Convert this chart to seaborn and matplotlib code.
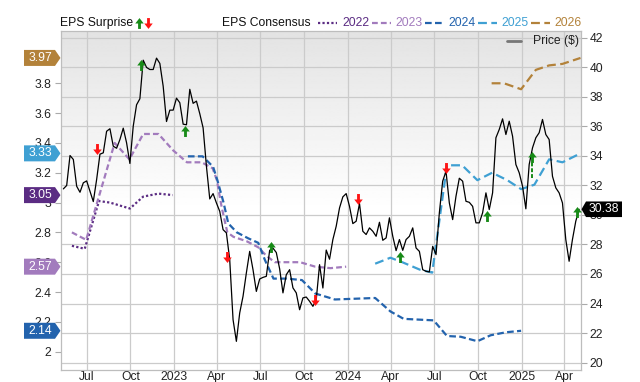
import numpy as np
import pandas as pd
import matplotlib
matplotlib.use("Agg")
import matplotlib.pyplot as plt
import matplotlib.transforms as mtransforms
from matplotlib.path import Path
from matplotlib.patches import Polygon
from matplotlib.lines import Line2D
from matplotlib.ticker import FuncFormatter
import seaborn as sns

# ---------------- data ----------------
price_start = "2022-05-13"   # weekly closes
price_values = [
    31.76, 31.99, 34.02, 33.75, 31.94, 31.53, 32.17, 32.30, 31.60, 30.90,
    32.39, 34.11, 34.20, 35.66, 35.83, 34.65, 34.51, 35.10, 35.87, 34.88,
    33.48, 36.00, 37.45, 37.86, 40.47, 39.98, 39.84, 39.84, 40.61, 40.25,
    38.71, 36.32, 37.09, 37.09, 37.90, 37.59, 36.14, 36.10, 38.50, 37.55,
    37.70, 36.85, 35.89, 33.29, 31.08, 31.44, 30.81, 30.24, 29.00, 28.78,
    26.97, 22.91, 21.44, 23.36, 24.49, 26.07, 27.53, 26.29, 24.82, 25.66,
    25.77, 25.84, 27.60, 27.75, 27.45, 26.35, 24.72, 25.95, 26.29, 25.06,
    24.72, 23.58, 24.38, 24.44, 24.15, 23.81, 24.26, 26.63, 25.05, 27.62,
    27.00, 28.33, 29.23, 30.47, 31.22, 31.44, 30.58, 29.41, 29.57, 30.77,
    28.89, 28.67, 29.12, 28.89, 28.55, 29.50, 28.28, 28.44, 29.80, 28.55,
    27.58, 28.33, 27.60, 28.33, 28.55, 29.12, 27.76, 27.53, 26.29, 26.18,
    26.14, 27.87, 27.31, 30.14, 32.28, 32.95, 30.81, 29.68, 31.26, 32.48,
    32.28, 30.92, 30.85, 30.58, 29.46, 29.46, 30.14, 31.49, 30.36, 31.49,
    35.22, 35.78, 36.50, 35.44, 36.34, 35.33, 33.41, 32.85, 31.94, 30.41,
    33.41, 34.54, 35.22, 35.56, 36.46, 35.44, 35.10, 32.61, 31.83, 31.49,
    30.81, 28.33, 26.86, 28.33, 29.57, 30.38,
]

years = ["2022", "2023", "2024", "2025", "2026"]
eps2022_dates = ["2022-05-31", "2022-06-27", "2022-07-27", "2022-08-19", "2022-09-30",
                 "2022-10-28", "2022-11-29", "2022-12-29"]
eps2022_vals = [2.71, 2.69, 3.01, 3.00, 2.96, 3.04, 3.06, 3.05]

eps2023_dates = ["2022-05-31", "2022-06-30", "2022-08-29", "2022-09-29", "2022-10-28",
                 "2022-11-29", "2022-12-30", "2023-01-28", "2023-02-28", "2023-03-23",
                 "2023-04-01", "2023-04-11", "2023-04-23", "2023-05-06", "2023-06-03",
                 "2023-06-27", "2023-07-15", "2023-08-01", "2023-09-23", "2023-10-25",
                 "2023-11-26", "2023-12-29"]
eps2023_vals = [2.80, 2.75, 3.40, 3.29, 3.46, 3.46, 3.35, 3.27, 3.27, 3.23,
                3.15, 2.97, 2.80, 2.77, 2.74, 2.70, 2.64, 2.60, 2.60, 2.57,
                2.56, 2.57]

eps2024_dates = ["2023-01-30", "2023-03-02", "2023-03-24", "2023-04-02", "2023-04-15",
                 "2023-04-25", "2023-05-13", "2023-06-06", "2023-06-27", "2023-07-11",
                 "2023-07-29", "2023-08-26", "2023-09-27", "2023-10-25", "2023-11-25",
                 "2023-12-05", "2024-02-28", "2024-03-31", "2024-04-28", "2024-06-30",
                 "2024-07-28", "2024-08-26", "2024-09-30", "2024-10-28", "2024-11-29",
                 "2024-12-31"]
eps2024_vals = [3.31, 3.31, 3.24, 3.15, 3.00, 2.86, 2.80, 2.76, 2.73, 2.615,
                2.49, 2.49, 2.48, 2.39, 2.36, 2.35, 2.36, 2.27, 2.22, 2.21,
                2.105, 2.10, 2.07, 2.11, 2.13, 2.14]

eps2025_dates = ["2024-02-28", "2024-03-31", "2024-04-25", "2024-06-01", "2024-06-27",
                 "2024-07-28", "2024-08-29", "2024-09-30", "2024-10-31", "2024-12-02",
                 "2024-12-31", "2025-01-28", "2025-02-28", "2025-03-28", "2025-05-05"]
eps2025_vals = [2.59, 2.63, 2.60, 2.55, 2.53, 3.25, 3.25, 3.15, 3.20, 3.15,
                3.09, 3.12, 3.29, 3.27, 3.33]

eps2026_dates = ["2024-10-30", "2024-11-25", "2024-12-31", "2025-01-31", "2025-02-28",
                 "2025-03-28", "2025-05-05"]
eps2026_vals = [3.80, 3.80, 3.76, 3.89, 3.92, 3.93, 3.97]

beat_dates = ["2022-10-23", "2023-01-23", "2023-07-24", "2024-04-21", "2024-10-21",
              "2025-01-22", "2025-04-27"]
beat_vals = [40.16, 35.71, 27.83, 27.15, 29.95, 33.95, 30.20]
big_beat_date = "2025-01-22"
big_beat_low, big_beat_high = 32.5, 33.6
miss_dates = ["2022-07-23", "2023-04-22", "2023-10-24", "2024-01-22", "2024-07-25"]
miss_vals = [34.47, 27.15, 24.26, 31.08, 33.16]

x_tick_dates = ["2022-07-01", "2022-10-01", "2023-01-01", "2023-04-01", "2023-07-01",
                "2023-10-01", "2024-01-01", "2024-04-01", "2024-07-01", "2024-10-01",
                "2025-01-01", "2025-04-01"]
x_tick_labels = ["Jul", "Oct", "2023", "Apr", "Jul", "Oct", "2024", "Apr", "Jul", "Oct",
                 "2025", "Apr"]
price_ticks = [20, 22, 24, 26, 28, 30, 32, 34, 36, 38, 40, 42]
eps_ticks = [2.0, 2.2, 2.4, 2.6, 2.8, 3.0, 3.2, 3.4, 3.6, 3.8]

# ---------------- style ----------------
year_colors = ["#5b2c83", "#a27bbd", "#2363ad", "#3fa0d3", "#b3823a"]
year_styles = [(0, (1, 1)), (0, (2.6, 1.4)), (0, (3, 1.5)), (0, (4, 2)), (0, (4, 2))]
GREEN, RED = "#178a17", "#ff1414"
FS = 8.7

sns.set_theme(style="white")
plt.rcParams["font.family"] = ["Liberation Sans", "DejaVu Sans"]

W, H = 640, 382
L, R, T, B = 60.5, 581, 30.5, 370
pos = [L / W, 1 - B / H, (R - L) / W, (B - T) / H]
xlim = tuple(pd.to_datetime(["2022-05-07", "2025-05-06"]))
price_lim = (19.5, 42.48)
eps_lim = (1.877, 4.154)

fig = plt.figure(figsize=(W / 100, H / 100), dpi=100)


def fx(px):
    return px / W


def fy(py):
    return 1 - py / H


up_path = Path([(-0.26, -1), (0.26, -1), (0.26, 0.0), (0.78, 0.0), (0, 1),
                (-0.78, 0.0), (-0.26, 0.0), (-0.26, -1)],
               [Path.MOVETO] + [Path.LINETO] * 6 + [Path.CLOSEPOLY])
down_path = Path([(x, -y) for x, y in up_path.vertices], up_path.codes)

# background with gradient and grid
bg = fig.add_axes(pos)
bg.set_xlim(xlim)
t = np.linspace(0, 1, 256)
shade = 1 - 0.11 * np.clip((t - 0.47) / 0.53, 0, 1)
bg.imshow(shade.reshape(-1, 1), extent=(0, 1, 0, 1), transform=bg.transAxes,
          origin="lower", cmap="gray", vmin=0, vmax=1, aspect="auto",
          zorder=-1, interpolation="bilinear")
bg.set_xlim(xlim)
bg.set_ylim(price_lim)
bg.set_xticks(pd.to_datetime(x_tick_dates))
bg.set_yticks(price_ticks)
bg.grid(True, color="#cbcbcb", lw=0.9)
bg.tick_params(length=0, labelbottom=False, labelleft=False)
for s in bg.spines.values():
    s.set_visible(False)

# EPS consensus axis (left)
axe = fig.add_axes(pos, sharex=bg)
axe.patch.set_visible(False)
series = [(eps2022_dates, eps2022_vals), (eps2023_dates, eps2023_vals),
          (eps2024_dates, eps2024_vals), (eps2025_dates, eps2025_vals),
          (eps2026_dates, eps2026_vals)]
for (d, v), c, ls in zip(series, year_colors, year_styles):
    df = pd.DataFrame({"date": pd.to_datetime(d), "eps": v})
    sns.lineplot(data=df, x="date", y="eps", ax=axe, color=c, lw=1.6,
                 linestyle=ls, estimator=None, sort=False)
axe.set_ylim(eps_lim)
axe.set_yticks(eps_ticks)
axe.yaxis.set_major_formatter(FuncFormatter(lambda v, p: f"{v:g}"))
axe.set_xlabel("")
axe.set_ylabel("")
axe.tick_params(axis="x", length=0, labelbottom=False)
axe.tick_params(axis="y", left=True, right=False, length=4.3, width=0.8,
                color="#aaaaaa", pad=2.2, labelsize=FS, labelcolor="#222222")
for s in axe.spines.values():
    s.set_visible(False)

# price axis (right)
axp = fig.add_axes(pos, sharex=bg)
axp.patch.set_visible(False)
pdf = pd.DataFrame({"date": pd.date_range(price_start, periods=len(price_values), freq="7D"),
                    "price": price_values})
sns.lineplot(data=pdf, x="date", y="price", ax=axp, color="black", lw=0.9,
             estimator=None, sort=False)
axp.set_ylim(price_lim)
axp.set_yticks(price_ticks)
axp.yaxis.tick_right()
axp.set_xlabel("")
axp.set_ylabel("")
axp.tick_params(axis="y", right=True, left=False, labelright=True, labelleft=False,
                length=4.3, width=0.8, color="#aaaaaa", pad=2, labelsize=FS,
                labelcolor="#222222")
axp.set_xticks(pd.to_datetime(x_tick_dates))
axp.set_xticklabels(x_tick_labels)
axp.tick_params(axis="x", bottom=True, length=0, pad=0.6, labelsize=FS, labelcolor="#222222")
axp.set_xlim(xlim)
for s in axp.spines.values():
    s.set_color("#bdbdbd")
    s.set_linewidth(0.9)

# surprise arrows
axp.plot(pd.to_datetime([big_beat_date, big_beat_date]), [big_beat_low, big_beat_high],
         color=GREEN, lw=1.4, linestyle=(0, (2, 1)), zorder=5)
axp.scatter(pd.to_datetime(beat_dates), beat_vals, marker=up_path, s=62,
            color=GREEN, linewidths=0, zorder=6)
axp.scatter(pd.to_datetime(miss_dates), miss_vals, marker=down_path, s=62,
            color=RED, linewidths=0, zorder=6)


# value tags
def tag(ax, anchor_x, value, verts, text, text_dx, color):
    base = mtransforms.blended_transform_factory(ax.transAxes, ax.transData)
    tr = mtransforms.Affine2D() + mtransforms.ScaledTranslation(anchor_x, value, base)
    ax.add_patch(Polygon(verts, closed=True, transform=tr, facecolor=color,
                         edgecolor="none", clip_on=False, zorder=10))
    ax.text(text_dx, 0, text, transform=tr, ha="center", va="center", color="white",
            fontsize=FS, clip_on=False, zorder=11)


left_verts = [(-36.5, -8), (-5.5, -8), (0, 0), (-5.5, 8), (-36.5, 8)]
for (d, v), c in zip(series, year_colors):
    tag(axe, 0, v[-1], left_verts, f"{v[-1]:.2f}", -20.5, c)
right_verts = [(0.5, 0), (5, -7.8), (41, -7.8), (41, 7.8), (5, 7.8)]
tag(axp, 1, price_values[-1], right_verts, f"{price_values[-1]:.2f}", 22.5, "black")

# price legend inside
fig.add_artist(Line2D([fx(506.7), fx(520.7)], [fy(41), fy(41)], color="#777777", lw=2,
                      transform=fig.transFigure))
fig.text(fx(532.7), fy(41), "Price ($)", fontsize=FS, va="center", ha="left", color="#222222")

# top legend
LY = 22.7
fig.text(fx(60.4), fy(LY), "EPS Surprise", fontsize=FS, va="center", ha="left", color="#111111")
fig.add_artist(Line2D([fx(138.8)], [fy(LY)], marker=up_path, markersize=7.8, color=GREEN,
                      markeredgewidth=0, linestyle="none", transform=fig.transFigure))
fig.add_artist(Line2D([fx(147.8)], [fy(LY)], marker=down_path, markersize=7.8, color=RED,
                      markeredgewidth=0, linestyle="none", transform=fig.transFigure))
fig.text(fx(221.6), fy(LY), "EPS Consensus", fontsize=FS, va="center", ha="left", color="#111111")
leg_line_x = [(318.4, 337.1), (372.2, 391.0), (425.3, 444.0), (478.4, 497.0), (531.4, 550.2)]
leg_text_x = [342.0, 395.0, 448.2, 501.2, 554.3]
for yr, c, ls, (a, b), tx in zip(years, year_colors, year_styles, leg_line_x, leg_text_x):
    fig.add_artist(Line2D([fx(a), fx(b)], [fy(LY), fy(LY)], color=c, lw=1.6, linestyle=ls,
                          transform=fig.transFigure))
    fig.text(fx(tx), fy(LY), yr, fontsize=FS, va="center", ha="left", color=c)

fig.savefig("out.png", dpi=100)
